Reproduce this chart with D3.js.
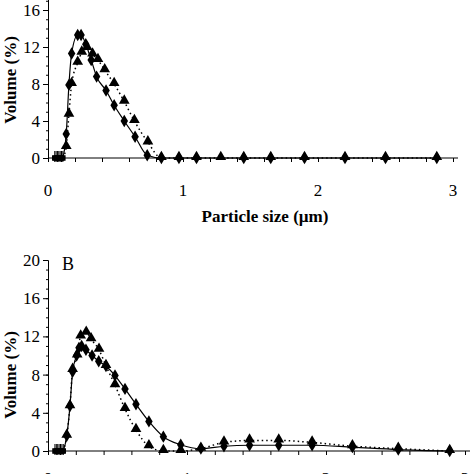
<!DOCTYPE html><html><head><meta charset="utf-8">
<script src="https://cdn.jsdelivr.net/npm/d3@7"></script>
<style>body{margin:0;background:#fff}text{font-family:"Liberation Serif","DejaVu Serif",serif}</style></head><body>
<svg id="c" width="474" height="474"></svg>
<script>
const lowX=[0.05,0.06,0.07,0.08,0.09,0.1,0.11];
const aDiaX=[0.135,0.155,0.175,0.22,0.245,0.28,0.32,0.36,0.43,0.49,0.565,0.645,0.735,0.84,0.97,1.1,1.45,1.65,1.9,2.2,2.5,2.88];
const aDiaY=[2.6,7.9,11.3,13.3,13.3,12.3,10.6,8.8,7.3,5.7,4.0,2.3,0.3,0,0,0,0,0,0,0,0,0];
const aTriX=[0.135,0.155,0.175,0.22,0.25,0.29,0.33,0.37,0.42,0.49,0.565,0.64,0.74,0.84,0.97,1.1,1.28,1.45,1.65,1.9,2.2,2.5,2.88];
const aTriY=[1.2,4.7,8.0,10.3,11.4,11.9,11.2,10.6,9.5,8.0,6.1,4.0,1.7,0,0,0,0,0,0,0,0,0,0];
const bDiaX=[0.135,0.158,0.177,0.206,0.223,0.242,0.273,0.317,0.365,0.417,0.482,0.554,0.633,0.726,0.83,0.955,1.1,1.266,1.45,1.66,1.9,2.19,2.52,2.89];
const bDiaY=[1.6,4.7,8.3,10.0,10.8,11.0,10.6,10.0,9.4,8.9,7.9,6.5,4.9,3.1,1.5,0.66,0.25,0.5,0.6,0.6,0.6,0.4,0.15,0];
const bTriX=[0.135,0.158,0.177,0.21,0.235,0.275,0.31,0.367,0.417,0.482,0.554,0.633,0.726,0.83,0.955,1.1,1.266,1.45,1.66,1.9,2.19,2.52,2.89];
const bTriY=[1.6,4.7,8.5,10.0,12.0,12.4,11.7,10.6,8.9,6.9,4.4,2.2,0.5,0,0,0.25,0.9,1.1,1.1,0.9,0.5,0.25,0];
const yTicks=[0,4,8,12,16,20];
const xTicks=[0,1,2,3];

const svg=d3.select("#c");
function panel(o){
  const x=d3.scaleLinear().domain([0,3]).range([48,o.x3]);
  const y=d3.scaleLinear().domain([0,20]).range([o.y0,o.y20]);
  const g=svg.append("g");
  g.append("g").attr("transform",`translate(0,${o.y0})`).call(d3.axisBottom(x).tickValues(d3.range(0,3.01,0.2)).tickSize(4).tickFormat("")).call(a=>a.select(".domain").attr("d",`M48,0H${o.x3+5}`));
  g.append("g").attr("transform",`translate(48,0)`).call(d3.axisLeft(y).tickValues(d3.range(0,21,1)).tickSize(2).tickFormat(""));
  g.append("g").attr("transform",`translate(48,0)`).call(d3.axisLeft(y).tickValues(yTicks).tickSize(5).tickFormat(d3.format("d"))).call(a=>a.select(".domain").remove()).selectAll("text").attr("font-size",17).attr("font-family","Liberation Serif");
  g.selectAll(".xl").data(xTicks).join("text").attr("x",d=>x(d)).attr("y",o.xl).attr("text-anchor","middle").attr("font-size",17).text(d=>d);
  g.selectAll(".tick line").attr("stroke","#000");
  lowX.forEach(v=>{
    g.append("line").attr("x1",x(v)).attr("x2",x(v)).attr("y1",y(0)-7).attr("y2",y(0)+4).attr("stroke","#000");
    g.append("path").attr("d",d3.symbol(d3.symbolSquare,30)()).attr("transform",`translate(${x(v)},${y(0)})`);
  });
  const line=d3.line().x(d=>x(d[0])).y(d=>y(d[1])).curve(d3.curveMonotoneX);
  const pts=(X,Y)=>X.map((v,i)=>[v,Y[i]]);
  const dd=[[0.11,0],...pts(o.dx,o.dy)], tt=[[0.11,0],...pts(o.tx,o.ty)];
  g.append("path").attr("d",line(dd)).attr("fill","none").attr("stroke","#000").attr("stroke-width",1.2);
  g.append("path").attr("d",line(tt)).attr("fill","none").attr("stroke","#000").attr("stroke-width",1.5).attr("stroke-dasharray","1.5,3");
  g.selectAll(".d").data(pts(o.dx,o.dy)).join("path").attr("d",d3.symbol(d3.symbolDiamond,40)()).attr("transform",d=>`translate(${x(d[0])},${y(d[1])}) scale(1.1,1.05)`);
  g.selectAll(".t").data(pts(o.tx,o.ty)).join("path").attr("d",d3.symbol(d3.symbolTriangle,50)()).attr("transform",d=>`translate(${x(d[0])},${y(d[1])-1})`);
  return {x,y,g};
}
panel({x3:453,y0:158,y20:-27,xl:196,dx:aDiaX,dy:aDiaY,tx:aTriX,ty:aTriY});
const b=panel({x3:465,y0:451,y20:260,xl:484,dx:bDiaX,dy:bDiaY,tx:bTriX,ty:bTriY});
b.g.append("text").attr("x",62).attr("y",270).attr("font-size",18).text("B");
svg.append("text").attr("x",265).attr("y",222).attr("text-anchor","middle").attr("font-size",17).attr("font-weight","bold").text("Particle size (µm)");
[[80],[375]].forEach(([cy])=>svg.append("text").attr("transform",`translate(16,${cy}) rotate(-90)`).attr("text-anchor","middle").attr("font-size",17).attr("font-weight","bold").text("Volume (%)"));
</script></body></html>
